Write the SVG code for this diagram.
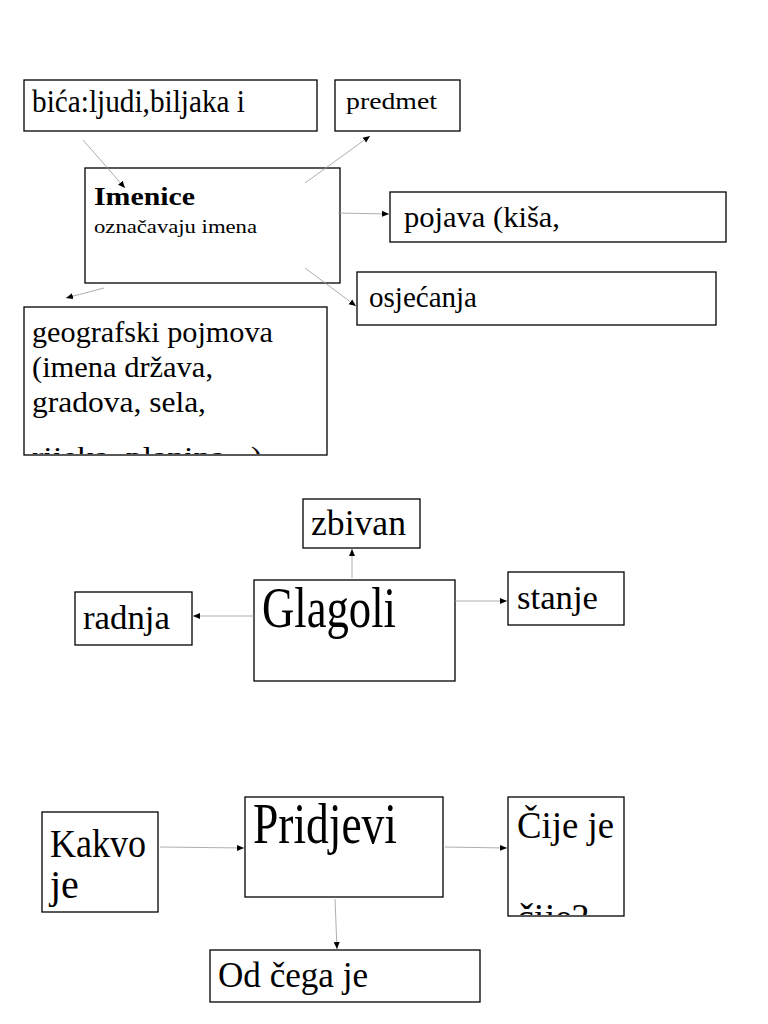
<svg xmlns="http://www.w3.org/2000/svg" width="768" height="1024" viewBox="0 0 768 1024">
<style>
rect{fill:#fff;stroke:#000;stroke-width:1.3}
text{font-family:"Liberation Serif","Times New Roman",serif;fill:#000}
.c line{stroke:#999;stroke-width:0.8;marker-end:url(#a)}
</style>
<defs>
<marker id="a" markerWidth="8" markerHeight="8" refX="7" refY="4" orient="auto" markerUnits="userSpaceOnUse"><path d="M0,1 L7,4 L0,7 Z" fill="#000"/></marker>
<clipPath id="cg"><rect x="24" y="307" width="303" height="147"/></clipPath>
<clipPath id="cc"><rect x="508" y="797" width="116" height="118"/></clipPath>
</defs>
<rect x="0" y="0" width="768" height="1024" style="stroke:none"/>
<g id="bica"><rect x="24" y="80" width="293" height="51"/><text x="32" y="112" font-size="31" textLength="213" lengthAdjust="spacingAndGlyphs">bića:ljudi,biljaka i</text></g>
<g id="predmet"><rect x="335" y="80" width="125" height="51"/><text x="346" y="109" font-size="24" textLength="91" lengthAdjust="spacingAndGlyphs">predmet</text></g>
<g id="imenice"><rect x="85" y="168" width="255" height="115"/><text x="94" y="205" font-size="25" font-weight="bold" textLength="101" lengthAdjust="spacingAndGlyphs">Imenice</text><text x="94" y="233" font-size="19" textLength="163" lengthAdjust="spacingAndGlyphs">označavaju imena</text></g>
<g id="pojava"><rect x="390" y="192" width="336" height="50"/><text x="404" y="227" font-size="30" textLength="156" lengthAdjust="spacingAndGlyphs">pojava (kiša,</text></g>
<g id="osjecanja"><rect x="357" y="272" width="359" height="53"/><text x="369" y="307" font-size="30" textLength="108" lengthAdjust="spacingAndGlyphs">osjećanja</text></g>
<g id="geo"><rect x="24" y="307" width="303" height="148"/><g clip-path="url(#cg)" font-size="30"><text x="32" y="342" textLength="241" lengthAdjust="spacingAndGlyphs">geografski pojmova</text><text x="32" y="377" textLength="181" lengthAdjust="spacingAndGlyphs">(imena država,</text><text x="32" y="412" textLength="174" lengthAdjust="spacingAndGlyphs">gradova, sela,</text><text x="32" y="467" textLength="230" lengthAdjust="spacingAndGlyphs">rijeka, planina...)</text></g></g>
<g id="zbivan"><rect x="303" y="499" width="117" height="49"/><text x="311" y="535" font-size="36" textLength="95" lengthAdjust="spacingAndGlyphs">zbivan</text></g>
<g id="glagoli"><rect x="254" y="580" width="201" height="101"/><text x="262" y="627" font-size="56" textLength="134" lengthAdjust="spacingAndGlyphs">Glagoli</text></g>
<g id="stanje"><rect x="508" y="572" width="116" height="53"/><text x="517" y="609" font-size="33" textLength="81" lengthAdjust="spacingAndGlyphs">stanje</text></g>
<g id="radnja"><rect x="75" y="592" width="117" height="53"/><text x="83" y="629" font-size="33" textLength="87" lengthAdjust="spacingAndGlyphs">radnja</text></g>
<g id="kakvo"><rect x="42" y="812" width="116" height="100"/><text x="50" y="857" font-size="40" textLength="96" lengthAdjust="spacingAndGlyphs">Kakvo</text><text x="50" y="898" font-size="40">je</text></g>
<g id="pridjevi"><rect x="245" y="797" width="198" height="100"/><text x="253" y="843" font-size="56" textLength="144" lengthAdjust="spacingAndGlyphs">Pridjevi</text></g>
<g id="cije"><rect x="508" y="797" width="116" height="119"/><g clip-path="url(#cc)" font-size="38"><text x="517" y="838" textLength="97" lengthAdjust="spacingAndGlyphs">Čije je</text><text x="517" y="930">čije?</text></g></g>
<g id="odcega"><rect x="210" y="950" width="270" height="52"/><text x="218" y="987" font-size="36" textLength="150" lengthAdjust="spacingAndGlyphs">Od čega je</text></g>
<g class="c">
<line x1="83" y1="140" x2="125" y2="188"/>
<line x1="305" y1="183" x2="370" y2="136"/>
<line x1="338" y1="213" x2="389" y2="214"/>
<line x1="104" y1="288" x2="66" y2="298"/>
<line x1="305" y1="268" x2="356" y2="306"/>
<line x1="352" y1="578" x2="352" y2="549"/>
<line x1="455" y1="601" x2="507" y2="601"/>
<line x1="254" y1="616" x2="193" y2="616"/>
<line x1="160" y1="847" x2="244" y2="848"/>
<line x1="445" y1="847" x2="507" y2="848"/>
<line x1="335" y1="899" x2="337" y2="949"/>
</g>
</svg>
